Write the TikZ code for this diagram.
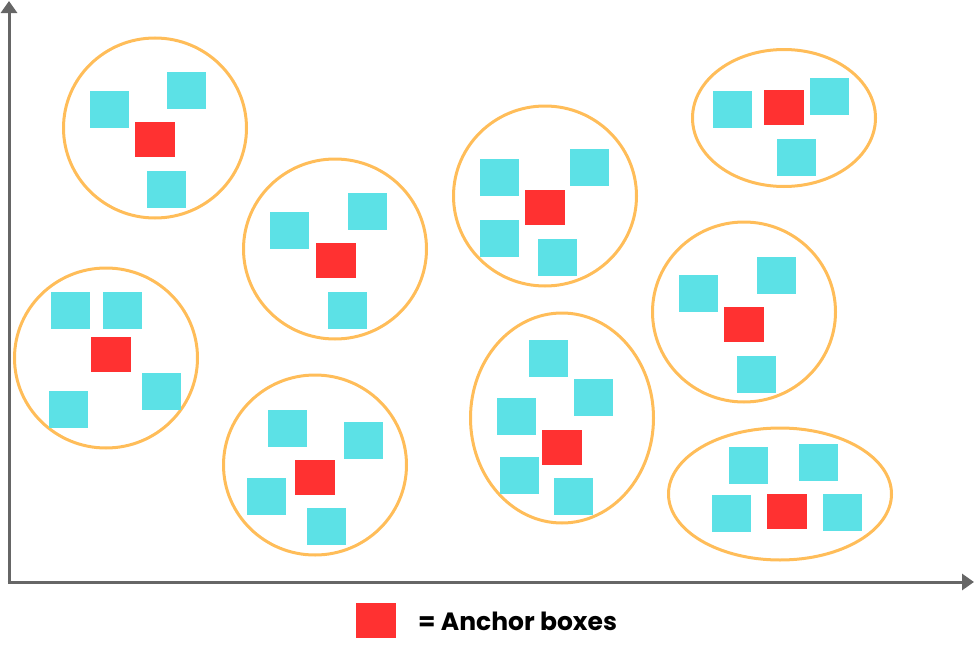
\documentclass[tikz,border=0pt]{standalone}
\usepackage{fontspec}
\setmainfont{Poppins}
\usepackage{xcolor}
\definecolor{anccyan}{RGB}{92,225,230}
\definecolor{ancred}{RGB}{255,49,49}
\definecolor{ancorange}{RGB}{255,189,89}
\definecolor{ancgray}{RGB}{102,102,102}
\usetikzlibrary{arrows.meta,positioning,shapes.geometric}

\begin{document}
\begin{tikzpicture}[x=1pt,y=-1pt,
  clszone/.style={draw=ancorange,line width=3pt,ellipse,minimum width=183pt,minimum height=180pt,inner sep=0pt},
  gtbox/.style={fill=anccyan,minimum width=39pt,minimum height=37pt,inner sep=0pt},
  ancbox/.style={fill=ancred,minimum width=40pt,minimum height=35pt,inner sep=0pt},
  axisline/.style={draw=ancgray,line width=3pt,-{Triangle[width=16pt,length=12pt]}}
]
  \useasboundingbox (0,0) rectangle (975,645);

  % Axes
  \coordinate (origin) at (9,582);
  \coordinate (ytip) at (9,1);
  \coordinate (xtip) at (974,582);
  \draw[axisline] ([yshift=-1.5pt]origin) -- (ytip);
  \draw[axisline] ([xshift=-1.5pt]origin) -- (xtip);

  % Cluster 1
  \node[clszone] (c1) at (155,128) {};
  \node[gtbox] (c1a) at (109.5,109.5) {};
  \node[gtbox] (c1b) at (186.5,90.5) {};
  \node[ancbox] (c1r) at (154.5,139.5) {};
  \node[gtbox] (c1c) at (166.5,189.5) {};

  % Cluster 2
  \node[clszone] (c2) at (335,249) {};
  \node[gtbox] (c2a) at (289.5,230) {};
  \node[gtbox] (c2b) at (367,211.5) {};
  \node[ancbox] (c2r) at (335.5,260.5) {};
  \node[gtbox] (c2c) at (347.5,310.5) {};

  % Cluster 3
  \node[clszone] (c3) at (106,358) {};
  \node[gtbox] (c3a) at (70.5,310.5) {};
  \node[gtbox] (c3b) at (122.5,310.5) {};
  \node[ancbox] (c3r) at (111,354.5) {};
  \node[gtbox] (c3c) at (161.5,391) {};
  \node[gtbox] (c3d) at (68.5,409.5) {};

  % Cluster 4
  \node[clszone] (c4) at (315,465) {};
  \node[gtbox] (c4a) at (287.5,428.5) {};
  \node[gtbox] (c4b) at (363.5,440.5) {};
  \node[ancbox] (c4r) at (315,477.5) {};
  \node[gtbox] (c4c) at (266.5,496) {};
  \node[gtbox] (c4d) at (326.5,526.5) {};

  % Cluster 5
  \node[clszone] (c5) at (545,196) {};
  \node[gtbox] (c5a) at (499.5,177) {};
  \node[gtbox] (c5b) at (589.5,167.5) {};
  \node[ancbox] (c5r) at (545,207.5) {};
  \node[gtbox] (c5c) at (499.5,238.5) {};
  \node[gtbox] (c5d) at (557.5,257.5) {};

  % Cluster 6
  \node[clszone,minimum height=137pt] (c6) at (784,118) {};
  \node[gtbox] (c6a) at (732.5,109) {};
  \node[ancbox] (c6r) at (784,107.5) {};
  \node[gtbox] (c6b) at (829.5,96.5) {};
  \node[gtbox] (c6c) at (796.5,157.5) {};

  % Cluster 7
  \node[clszone] (c7) at (744,312) {};
  \node[gtbox] (c7a) at (698.5,293.5) {};
  \node[gtbox] (c7b) at (776,275) {};
  \node[ancbox] (c7r) at (744,324.5) {};
  \node[gtbox] (c7c) at (756.5,374) {};

  % Cluster 8
  \node[clszone,minimum height=210pt] (c8) at (562,418) {};
  \node[gtbox] (c8a) at (548.5,358) {};
  \node[gtbox] (c8b) at (593.5,397.5) {};
  \node[gtbox] (c8c) at (516.5,416.5) {};
  \node[ancbox] (c8r) at (562,447) {};
  \node[gtbox] (c8d) at (519.5,475.5) {};
  \node[gtbox] (c8e) at (573.5,496.5) {};

  % Cluster 9
  \node[clszone,minimum width=223pt,minimum height=132pt] (c9) at (780,494) {};
  \node[gtbox] (c9a) at (748.5,465.5) {};
  \node[gtbox] (c9b) at (818.5,462.5) {};
  \node[gtbox] (c9c) at (731.5,513.5) {};
  \node[ancbox] (c9r) at (787,511.5) {};
  \node[gtbox] (c9d) at (842.5,512.5) {};

  % Legend
  \node[ancbox] (legbox) at (376,620) {};
  \node[anchor=west,inner sep=0pt,font=\fontsize{25}{30}\selectfont\bfseries] (legtxt) at (418,621) {= Anchor boxes};
\end{tikzpicture}
\end{document}
